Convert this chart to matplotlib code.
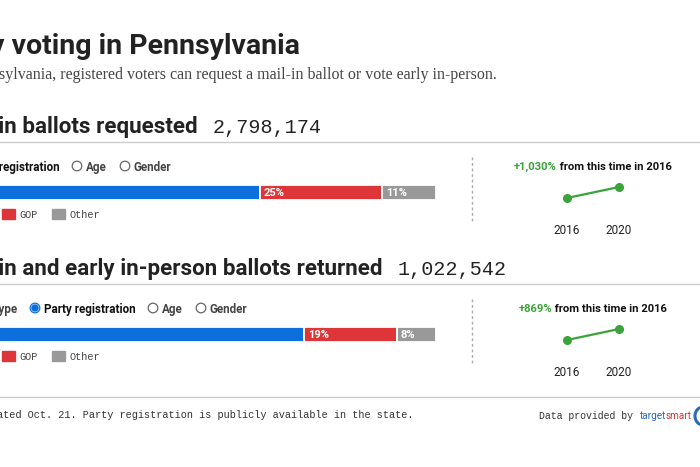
import matplotlib
matplotlib.use("Agg")
import matplotlib.pyplot as plt
import matplotlib.patches as patches

# data
title = "Early voting in Pennsylvania"
subtitle = "In Pennsylvania, registered voters can request a mail-in ballot or vote early in-person."
parties = ["Dem", "GOP", "Other"]
party_colors = ["#0d6fdc", "#dd3538", "#999999"]

requested_total = "2,798,174"
requested_share = [64, 25, 11]
requested_change = "+1,030%"

returned_total = "1,022,542"
returned_share = [73, 19, 8]
returned_change = "+869%"

spark_years = [2016, 2020]
spark_requested = [0.0, 1.0]
spark_returned = [0.0, 1.0]

breakdowns = ["Party registration", "Age", "Gender"]
footnote = "Data updated Oct. 21. Party registration is publicly available in the state."

W, H = 700, 467
BOLD = ["Roboto", "DejaVu Sans"]
MONO = ["Liberation Mono", "DejaVu Sans Mono"]
GREEN = "#3aa33a"

fig = plt.figure(figsize=(W / 100, H / 100), dpi=100)
fig.patch.set_facecolor("white")
cv = fig.add_axes([0, 0, 1, 1])
cv.set_xlim(0, W)
cv.set_ylim(H, 0)
cv.axis("off")


def frac(x0, x1, y0, y1):
    # pixel box -> figure fraction rect
    return [x0 / W, 1 - y1 / H, (x1 - x0) / W, (y1 - y0) / H]


# title block
cv.text(300, 54, title, ha="right", va="baseline", family=BOLD, weight="bold",
        fontsize=20.5, color="#222222")
cv.text(497, 79, subtitle, ha="right", va="baseline", family=["Liberation Serif"],
        fontsize=11.5, color="#444444")

renderer = fig.canvas.get_renderer()


def section(y_head, heading, head_right, total, shares, change, spark, row_shift, y_top):
    cv.text(head_right, y_head, heading, ha="right", va="baseline", family=BOLD,
            weight="bold", fontsize=16.1, color="#222222")
    cv.text(head_right + 15, y_head, total, ha="left", va="baseline", family=MONO,
            fontsize=14.5, color="#222222")
    cv.plot([0, W], [y_head + 8.5, y_head + 8.5], color="#cccccc", lw=1)

    # radio row
    yr = y_top + 24
    cx = [35 + row_shift, 153 + row_shift, 201 + row_shift]
    cv.text(cx[0] - 18, yr + 5, "Breakdown by type", ha="right", va="baseline",
            family=BOLD, weight="bold", fontsize=8.4, color="#444444")
    for i, (x, lab) in enumerate(zip(cx, breakdowns)):
        cv.add_patch(patches.Circle((x, yr), 4.8, fill=False, ec="#666666" if i else "#0d6fdc",
                                    lw=0.9))
        if i == 0:
            cv.add_patch(patches.Circle((x, yr), 3, color="#0d6fdc"))
        cv.text(x + 9, yr + 5, lab, ha="left", va="baseline", family=BOLD,
                weight="bold", fontsize=8.4, color="#111111" if i == 0 else "#444444")

    # stacked bar
    yb = y_top + 43
    bx = fig.add_axes(frac(-53, 436, yb, yb + 15))
    left = 0
    for s, c in zip(shares, party_colors):
        bx.barh(0, s, left=left, height=1, color=c, edgecolor="white", linewidth=1.3)
        bx.text(left + 0.8, 0, f"{s}%", ha="left", va="center", color="white",
                family=BOLD, weight="bold", fontsize=8)
        left += s
    bx.set_xlim(0, 100)
    bx.set_ylim(-0.5, 0.5)
    bx.axis("off")

    # legend
    yl = y_top + 72
    for i, (p, c) in enumerate(zip(parties, party_colors)):
        x = -48 + 50 * i
        cv.add_patch(patches.Rectangle((x, yl - 5), 13, 9.5, color=c))
        cv.text(x + 17, yl + 3.5, p, ha="left", va="baseline", family=MONO,
                fontsize=7.4, color="#444444")

    # right panel
    cv.plot([472, 472], [y_top + 15, y_top + 81], color="#aaaaaa", lw=1, ls=(0, (2, 2)))
    t1 = cv.text(0, y_top + 28, change, ha="left", va="baseline", family=BOLD,
                 weight="bold", fontsize=8.1, color=GREEN)
    t2 = cv.text(0, y_top + 28, " from this time in 2016", ha="left", va="baseline",
                 family=BOLD, weight="bold", fontsize=8.1, color="#111111")
    w1 = t1.get_window_extent(renderer).width
    w2 = t2.get_window_extent(renderer).width
    x0 = 593 - (w1 + w2) / 2
    t1.set_x(x0)
    t2.set_x(x0 + w1)

    sx = fig.add_axes(frac(567, 619, y_top + 45, y_top + 56))
    sx.plot(spark_years, spark, color=GREEN, lw=1.6, marker="o", ms=5.5, clip_on=False)
    sx.set_xlim(spark_years[0], spark_years[-1])
    sx.set_ylim(0, 1)
    sx.set_xticks(spark_years)
    sx.set_xticklabels([str(y) for y in spark_years], family=["Roboto"], fontsize=8.5,
                       color="#222222")
    sx.tick_params(axis="x", length=0, pad=19)
    sx.set_yticks([])
    for sp in sx.spines.values():
        sp.set_visible(False)
    sx.patch.set_alpha(0)


section(133, "Mail-in ballots requested", 198, requested_total, requested_share,
        requested_change, spark_requested, -76, 142)
section(275, "Mail-in and early in-person ballots returned", 383, returned_total,
        returned_share, returned_change, spark_returned, 0, 284)

# footer
cv.plot([0, W], [397, 397], color="#cccccc", lw=1)
cv.text(413, 418, footnote, ha="right", va="baseline", family=MONO, fontsize=7.4,
        color="#333333")
cv.text(633, 419, "Data provided by", ha="right", va="baseline", family=MONO,
        fontsize=7.1, color="#333333")
ta = cv.text(640, 419, "target", ha="left", va="baseline", family=["Roboto"],
             fontsize=7.2, color="#2a6ab8")
wa = ta.get_window_extent(renderer).width
cv.text(639 + wa, 419, "smart", ha="left", va="baseline", family=["Roboto"],
        fontsize=7.2, color="#dd3538")
cv.add_patch(patches.Arc((703, 416), 16, 18, theta1=90, theta2=290, color="#2a6ab8", lw=2.2))
cv.add_patch(patches.Arc((703, 416), 16, 18, theta1=290, theta2=330, color="#dd3538", lw=2.2))

fig.savefig("out.png", dpi=100, facecolor="white")
